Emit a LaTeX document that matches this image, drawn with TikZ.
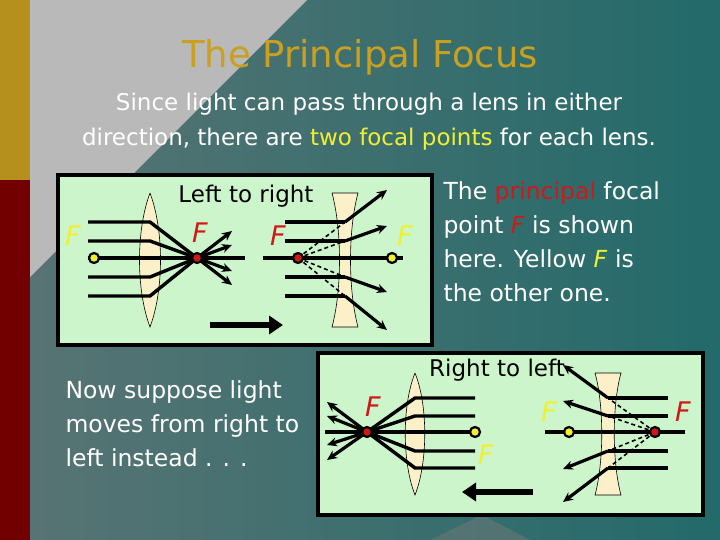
\documentclass[tikz,border=0pt]{standalone}
\usepackage{fontspec}
\setmainfont{DejaVu Sans}
\usetikzlibrary{arrows.meta}
\definecolor{gold}{HTML}{C9A020}
\definecolor{tealA}{HTML}{5A7474}
\definecolor{tealB}{HTML}{236A6A}
\definecolor{boxg}{HTML}{CCF5CC}
\definecolor{lensc}{HTML}{FBF0C8}
\definecolor{redF}{HTML}{D01818}
\definecolor{yelF}{HTML}{F0F030}
\tikzset{
 ray/.style={line width=3.4pt},
 rayarr/.style={line width=3.2pt,-{Stealth[length=10pt,width=9pt]}},
 dashray/.style={line width=1.6pt,dash pattern=on 4pt off 3pt},
 lens/.style={fill=lensc,draw=black,line width=0.6pt},
 dotr/.style={circle,draw=black,line width=2.2pt,fill=redF,inner sep=0pt,minimum size=10pt},
 doty/.style={circle,draw=black,line width=2.2pt,fill=yelF,inner sep=0pt,minimum size=10pt},
 fr/.style={text=redF,font=\fontsize{27}{27}\selectfont\itshape},
 fy/.style={text=yelF,font=\fontsize{27}{27}\selectfont\itshape},
 panel/.style={fill=boxg,draw=black,line width=3.5pt},
 body/.style={text=white,font=\fontsize{23.5}{34}\selectfont,align=left},
 bigarr/.style={line width=6pt,-{Triangle[length=14pt,width=18pt]}}
}
\begin{document}
\begin{tikzpicture}[x=1pt,y=-1pt]
\useasboundingbox (0,0) rectangle (720,540);
% background
\fill[left color=tealA, right color=tealB] (0,0) rectangle (720,540);
\fill[gray!55] (0,0) -- (307,0) -- (0,307) -- cycle;
\fill[tealA!80!gray,opacity=0.7] (430,540) -- (482,515) -- (530,540) -- cycle;
\fill[gold!90!black] (0,0) rectangle (30,180);
\fill[red!45!black] (0,180) rectangle (30,540);
% title
\node[text=gold,font=\fontsize{37}{37}\selectfont] (title) at (360,57) {The Principal Focus};
\node[text=white,font=\fontsize{23}{35}\selectfont,align=center] (sub) at (369,122)
 {Since light can pass through a lens in either\\direction, there are \textcolor{yelF}{two focal points} for each lens.};
% panel 1
\draw[panel] (58,175) rectangle (432,345);
\node[font=\fontsize{23}{23}\selectfont] (l2r) at (246,196) {Left to right};
\draw[lens] (150,193) .. controls (164,230) and (164,290) .. (150,327) .. controls (136,290) and (136,230) .. (150,193);
\draw[ray] (88,258) -- (245,258);
\coordinate (f1) at (197,258);
\foreach \y/\e in {222/285,241/271,277/245,296/231}{
  \draw[ray] (88,\y) -- (150,\y) -- (f1);
  \draw[rayarr] (f1) -- (232,\e);
}
\node[dotr] (d1) at (f1) {};
\node[doty] (y1) at (94,258) {};
\node[fy] at (73,236) {F};
\node[fr] at (200,233) {F};
% diverging 1
\draw[lens] (332,193) -- (358,193) .. controls (348,230) and (348,290) .. (358,327) -- (332,327) .. controls (342,290) and (342,230) .. (332,193);
\draw[ray] (263,258) -- (403,258);
\coordinate (f2) at (298,258);
\foreach \y/\e in {222/190,241/226,277/292,296/330}{
  \draw[ray] (285,\y) -- (345,\y);
  \draw[rayarr] (345,\y) -- (387,\e);
  \draw[dashray] (f2) -- (345,\y);
}
\node[dotr] (d2) at (f2) {};
\node[doty] (y2) at (392,258) {};
\node[fr] at (278,236) {F};
\node[fy] at (405,236) {F};
\draw[bigarr] (210,325) -- (283,325);
% right text
\node[body,anchor=north west] (txt1) at (440,178)
 {The \textcolor{redF}{principal} focal\\point \textcolor{redF}{\textit{F}} is shown\\here. Yellow \textcolor{yelF}{\textit{F}} is\\the other one.};
\node[body,anchor=north west] (txt2) at (62,377)
 {Now suppose light\\moves from right to\\left instead . . .};
% panel 2
\draw[panel] (318,353) rectangle (703,515);
\draw[lens] (415,373) .. controls (428,405) and (428,462) .. (415,495) .. controls (402,462) and (402,405) .. (415,373);
\draw[ray] (325,432) -- (475,432);
\coordinate (f3) at (367,432);
\foreach \y/\e in {398/460,416/445,451/416,468/402}{
  \draw[ray] (475,\y) -- (415,\y) -- (f3);
  \draw[rayarr] (f3) -- (327,\e);
}
\node[dotr] (d3) at (f3) {};
\node[doty] (y3) at (475,432) {};
\node[fr] at (373,407) {F};
\node[fy] at (486,455) {F};
\draw[lens] (595,373) -- (621,373) .. controls (612,405) and (612,462) .. (621,495) -- (595,495) .. controls (604,462) and (604,405) .. (595,373);
\draw[ray] (545,432) -- (685,432);
\coordinate (f4) at (655,432);
\foreach \y/\e in {398/365,416/401,451/469,468/502}{
  \draw[ray] (668,\y) -- (608,\y);
  \draw[rayarr] (608,\y) -- (563,\e);
  \draw[dashray] (f4) -- (608,\y);
}
\node[dotr] (d4) at (f4) {};
\node[doty] (y4) at (569,432) {};
\node[fr] at (683,412) {F};
\node[fy] at (549,412) {F};
\node[font=\fontsize{23}{23}\selectfont] (r2l) at (497,370) {Right to left};
\draw[bigarr] (533,492) -- (462,492);
\end{tikzpicture}
\end{document}
